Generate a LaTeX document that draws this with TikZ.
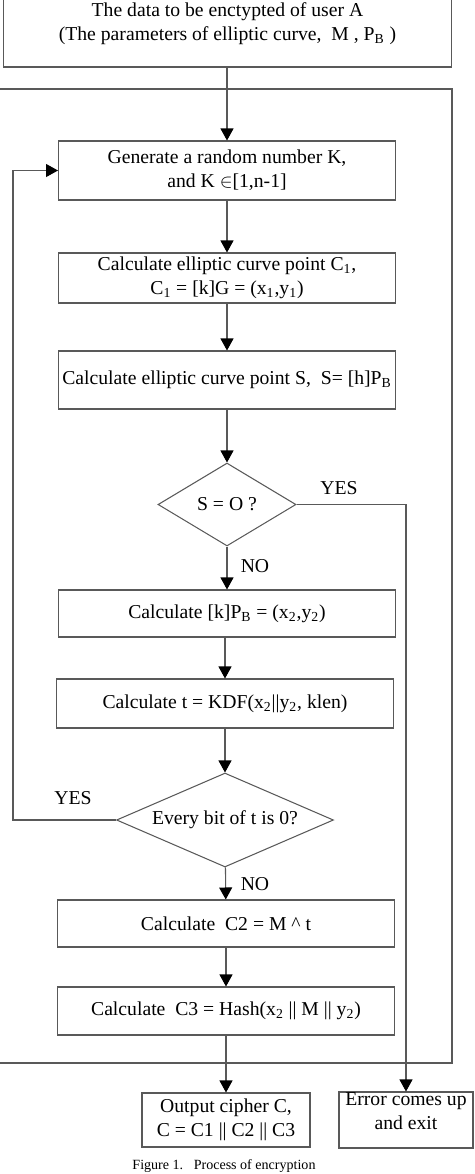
\documentclass[tikz,border=0pt]{standalone}
\usepackage{fontspec}
\setmainfont{Liberation Serif}
\usepackage{tikz}
\usetikzlibrary{shapes.geometric}
\usetikzlibrary{arrows.meta}
\usetikzlibrary{positioning}
\definecolor{lngray}{gray}{0.35}

\begin{document}
\begin{tikzpicture}[x=0.02cm,y=-0.02cm,
  every node/.style={font=\fontsize{11.2}{13.6}\selectfont},
  box/.style={draw=lngray,line width=0.6pt,minimum width=6.74cm,align=center,inner sep=1pt},
  decide/.style={draw=lngray,line width=0.6pt,diamond,inner sep=0pt},
  flow/.style={draw=lngray,line width=0.6pt,-{Triangle[length=2.4mm,width=2.6mm,color=black]}},
  lnk/.style={draw=lngray,line width=0.6pt}]
\useasboundingbox (0,0) rectangle (474,1174);
% frame round the loop
\draw[lngray,line width=0.6pt] (-2,89) rectangle (452,1063);
\node[box,minimum width=8.98cm,minimum height=1.74cm] (input) at (227.5,23.5)
  {The data to be enctypted of user A\\(The parameters of elliptic curve,\ \ M , P\textsubscript{B} )};
\node[box,minimum height=1.18cm] (rand) at (227,170.5)
  {Generate a random number K,\\and K $\in$[1,n-1]};
\node[box,minimum height=1cm] (cone) at (227,278)
  {Calculate elliptic curve point C\textsubscript{1},\\C\textsubscript{1} = [k]G = (x\textsubscript{1},y\textsubscript{1})};
\node[box,minimum height=1.16cm] (spt) at (227,380)
  {Calculate elliptic curve point S,\ \ S= [h]P\textsubscript{B}};
\node[decide,aspect=1.66,minimum width=2.76cm,minimum height=1.66cm] (iszero) at (227,504.5) {S = O ?};
\node[box,minimum height=0.94cm] (kpb) at (227,613.5)
  {Calculate [k]P\textsubscript{B} = (x\textsubscript{2},y\textsubscript{2})};
\node[box,minimum height=0.98cm] (kdf) at (225,703.5)
  {Calculate t = KDF(x\textsubscript{2}||y\textsubscript{2}, klen)};
\node[decide,aspect=2.3,minimum width=4.34cm,minimum height=1.88cm] (allzero) at (225,820) {Every bit of t is 0?};
\node[box,minimum height=0.94cm] (ctwo) at (226,923.5)
  {Calculate\ \ C2 = M \^{} t};
\node[box,minimum height=0.96cm] (cthree) at (226,1011)
  {Calculate\ \ C3 = Hash(x\textsubscript{2} || M || y\textsubscript{2})};
\node[box,minimum width=3.36cm,minimum height=1.08cm] (out) at (226,1120)
  {Output cipher C,\\C = C1 || C2 || C3};
\node[box,minimum width=2.68cm,minimum height=1.12cm] (err) at (406,1120) {};
\node[align=center,inner sep=0pt] (errtxt) at (406,1111) {Error comes up\\and exit};
% branch labels
\node (yesa) at (339,488) {YES};
\node (noa) at (255,566) {NO};
\node (yesb) at (73,798) {YES};
\node (nob) at (255,884) {NO};
% connectors
\draw[flow] (rand.north |- input.south) -- (rand.north);
\draw[flow] (rand) -- (cone);
\draw[flow] (cone) -- (spt);
\draw[flow] (spt) -- (iszero);
\draw[flow] (iszero) -- (kpb);
\draw[flow] (kdf.north |- kpb.south) -- (kdf.north);
\draw[flow] (kdf) -- (allzero);
\draw[flow] (allzero) -- (ctwo);
\draw[flow] (ctwo) -- (cthree);
\draw[flow] (cthree) -- (out);
\draw[flow] (iszero.east) -| (err.north);
\draw[flow] (allzero.west) -- (13,820) |- (rand.west);
\node[anchor=north,inner sep=0pt,font=\fontsize{8}{9}\selectfont] (cap) at (224,1159)
  {Figure 1.\ \ \ Process of encryption};
\end{tikzpicture}
\end{document}
